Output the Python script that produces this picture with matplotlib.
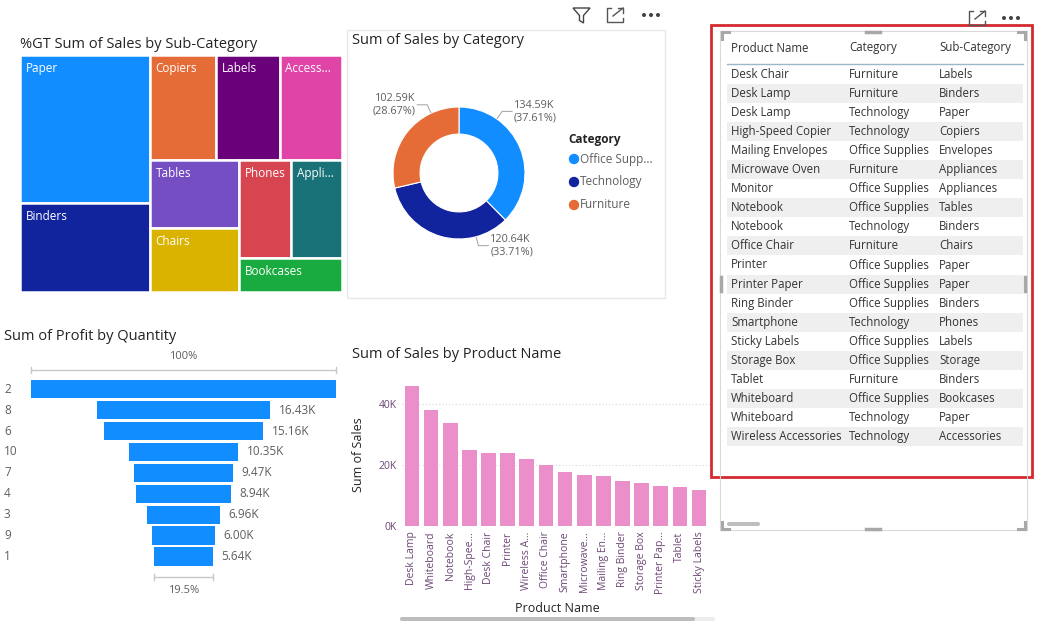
import numpy as np
import matplotlib.pyplot as plt
from matplotlib.patches import Rectangle, Circle, Polygon, FancyBboxPatch

plt.rcParams['font.family'] = ['Open Sans', 'DejaVu Sans']

# ---- data ----
sub_names = ["Paper", "Binders", "Copiers", "Labels", "Access...", "Tables",
             "Chairs", "Phones", "Appli...", "Bookcases"]
sub_pct = [25.2, 15.2, 9.1, 8.8, 8.6, 7.9, 7.5, 6.6, 6.5, 4.6]
sub_colors = ["#118DFF", "#12239E", "#E66C37", "#6B007B", "#E044A7", "#744EC2",
              "#D9B300", "#D64550", "#197278", "#1AAB40"]

cat_names = ["Office Supp...", "Technology", "Furniture"]
cat_sales = [134.59, 120.636, 102.59]  # thousands
cat_colors = ["#118DFF", "#12239E", "#E66C37"]

qty_labels = ["2", "8", "6", "10", "7", "4", "3", "9", "1"]
qty_profit = [28.92, 16.43, 15.16, 10.35, 9.47, 8.94, 6.96, 6.00, 5.64]  # thousands

products = ["Desk Lamp", "Whiteboard", "Notebook", "High-Spee...", "Desk Chair",
            "Printer", "Wireless A...", "Office Chair", "Smartphone", "Microwave...",
            "Mailing En...", "Ring Binder", "Storage Box", "Printer Pap...", "Tablet",
            "Sticky Labels"]
product_sales = [45.8, 37.8, 33.6, 24.7, 23.8, 23.8, 21.8, 19.8, 17.8, 16.8,
                 16.2, 14.8, 13.9, 13.0, 12.8, 11.9]  # thousands

tbl_product = ["Desk Chair", "Desk Lamp", "Desk Lamp", "High-Speed Copier",
               "Mailing Envelopes", "Microwave Oven", "Monitor", "Notebook", "Notebook",
               "Office Chair", "Printer", "Printer Paper", "Ring Binder", "Smartphone",
               "Sticky Labels", "Storage Box", "Tablet", "Whiteboard", "Whiteboard",
               "Wireless Accessories"]
tbl_category = ["Furniture", "Furniture", "Technology", "Technology", "Office Supplies",
                "Furniture", "Office Supplies", "Office Supplies", "Technology", "Furniture",
                "Office Supplies", "Office Supplies", "Office Supplies", "Technology",
                "Office Supplies", "Office Supplies", "Furniture", "Office Supplies",
                "Technology", "Technology"]
tbl_subcat = ["Labels", "Binders", "Paper", "Copiers", "Envelopes", "Appliances",
              "Appliances", "Tables", "Binders", "Chairs", "Paper", "Paper", "Binders",
              "Phones", "Labels", "Storage", "Binders", "Bookcases", "Paper", "Accessories"]

TITLE = "#252423"
GREY = "#605E5C"
W, H = 1056, 626

fig = plt.figure(figsize=(W / 100, H / 100), dpi=100, facecolor="white")


def px_axes(x0, y0, x1, y1, **kw):
    return fig.add_axes([x0 / W, 1 - y1 / H, (x1 - x0) / W, (y1 - y0) / H], **kw)


ov = px_axes(0, 0, W, H)
ov.set_xlim(0, W)
ov.set_ylim(H, 0)
ov.axis("off")
ov.set_zorder(0)

# ---- treemap ----
ov.text(20, 44, "%GT Sum of Sales by Sub-Category", fontsize=10.5, color=TITLE, va="center")
tm = px_axes(20, 55, 342, 292)
tm.set_xlim(0, 1)
tm.set_ylim(1, 0)
tm.axis("off")

tm_layout = ("h", [("v", [0, 1]),
                   ("v", [("h", [2, 3, 4]),
                          ("h", [("v", [5, 6]), ("v", [("h", [7, 8]), 9])])])])


def node_sum(n):
    if isinstance(n, int):
        return sub_pct[n]
    return sum(node_sum(c) for c in n[1])


def slice_rects(n, x, y, w, h, out):
    if isinstance(n, int):
        out[n] = (x, y, w, h)
        return
    d, kids = n
    tot = node_sum(n)
    for k in kids:
        f = node_sum(k) / tot
        if d == "h":
            slice_rects(k, x, y, w * f, h, out)
            x += w * f
        else:
            slice_rects(k, x, y, w, h * f, out)
            y += h * f


rects = {}
slice_rects(tm_layout, 0, 0, 1, 1, rects)
for i, name in enumerate(sub_names):
    x, y, w, h = rects[i]
    tm.add_patch(Rectangle((x, y), w, h, facecolor=sub_colors[i], edgecolor="white", lw=1.8))
    tm.annotate(name, (x, y), xytext=(4, -5), textcoords="offset points",
                color="white", fontsize=8.5, va="top", ha="left")

# ---- donut ----
ov.add_patch(Rectangle((347, 30), 318, 268, fill=False, edgecolor="#E8E8E8", lw=1))
ov.text(352, 40, "Sum of Sales by Category", fontsize=10.5, color=TITLE, va="center")
dn = px_axes(349, 63, 569, 283)
dn.pie(cat_sales, colors=cat_colors, startangle=90, counterclock=False,
       wedgeprops=dict(width=0.41, edgecolor="white", linewidth=0.8))
dn.set_xlim(-1.667, 1.667)
dn.set_ylim(-1.667, 1.667)
dn.set_aspect("equal")
tot = sum(cat_sales)
label_angles = [55, -75, 115]
for v, a in zip(cat_sales, label_angles):
    r = np.deg2rad(a)
    p0 = np.array([np.cos(r), np.sin(r)]) * 1.01
    p1 = np.array([np.cos(r), np.sin(r)]) * 1.14
    s = 1 if np.cos(r) >= 0 else -1
    p2 = p1 + np.array([0.15 * s, 0])
    dn.plot([p0[0], p1[0], p2[0]], [p0[1], p1[1], p2[1]], color="#A0A0A0", lw=0.7, clip_on=False)
    dn.text(p2[0] + 0.03 * s, p2[1], f"{v:.2f}K\n({v / tot * 100:.2f}%)", fontsize=7.8,
            color=GREY, ha="left" if s > 0 else "right", va="center", linespacing=1.2)

ov.text(568, 140, "Category", fontsize=8.5, color=TITLE, fontweight="bold", va="center")
for i, (name, c) in enumerate(zip(cat_names, cat_colors)):
    yy = 159 + 23 * i
    ov.add_patch(Circle((574, yy), 4.5, color=c))
    ov.text(580, yy, name, fontsize=8.5, color=GREY, va="center")

# ---- funnel ----
ov.text(4, 336, "Sum of Profit by Quantity", fontsize=10.5, color=TITLE, va="center")
fn = px_axes(31, 367, 336, 580)
qv = np.array(qty_profit)
rows = np.arange(len(qv))
fn.barh(rows, qv, left=-qv / 2, height=0.9, color="#118DFF")
fn.set_xlim(-qv[0] / 2, qv[0] / 2)
fn.set_ylim(9.1, -1.05)
fn.axis("off")
ytr = fn.get_yaxis_transform()
for i, lab in enumerate(qty_labels):
    fn.text(-27 / 305, i, lab, transform=ytr, fontsize=8.5, color=GREY, va="center", ha="left")
    if i > 0:
        fn.annotate(f"{qv[i]:.2f}K", (qv[i] / 2, i), xytext=(6, 0), textcoords="offset points",
                    fontsize=8.5, color=GREY, va="center")
# brackets
fn.plot([-qv[0] / 2, qv[0] / 2], [-0.9, -0.9], color="#C8C8C8", lw=1, clip_on=False)
for xx in (-qv[0] / 2, qv[0] / 2):
    fn.plot([xx, xx], [-1.05, -0.75], color="#C8C8C8", lw=1, clip_on=False)
fn.text(0, -1.55, "100%", fontsize=8, color=GREY, ha="center", va="center")
fn.plot([-qv[-1] / 2, qv[-1] / 2], [8.95, 8.95], color="#C8C8C8", lw=1, clip_on=False)
for xx in (-qv[-1] / 2, qv[-1] / 2):
    fn.plot([xx, xx], [8.8, 9.1], color="#C8C8C8", lw=1, clip_on=False)
fn.text(0, 9.6, f"{qv[-1] / qv[0] * 100:.1f}%", fontsize=8, color=GREY, ha="center", va="center")

# ---- bar chart ----
ov.text(352, 354, "Sum of Sales by Product Name", fontsize=10.5, color=TITLE, va="center")
bc = px_axes(402, 373, 710, 526)
bx = np.arange(len(products))
bc.bar(bx, np.array(product_sales) * 1000, width=0.77, color="#EB8FCB")
bc.set_xlim(-0.52, 15.57)
bc.set_ylim(0, 50000)
bc.set_yticks([0, 20000, 40000], ["0K", "20K", "40K"])
bc.set_xticks(bx, products, rotation=90)
bc.tick_params(length=0, labelsize=7.5, labelcolor="#6C4675", pad=4)
for s in bc.spines.values():
    s.set_visible(False)
for yv in (20000, 40000):
    bc.axhline(yv, color="#D8D8D8", lw=0.8, ls=(0, (1, 2)), zorder=0)
ov.text(358, 455, "Sum of Sales", fontsize=9, color=TITLE, rotation=90, ha="center", va="center")
ov.text(557, 608, "Product Name", fontsize=9, color=TITLE, ha="center", va="center")
ov.add_patch(FancyBboxPatch((400, 617), 315, 4, boxstyle="round,pad=0,rounding_size=2",
                            facecolor="#EDEDED", edgecolor="none"))
ov.add_patch(FancyBboxPatch((400, 617), 295, 4, boxstyle="round,pad=0,rounding_size=2",
                            facecolor="#BDBDBD", edgecolor="none"))

# ---- table ----
ov.plot([722, 1025], [31, 31], color="#DADADA", lw=0.8)
ov.plot([720, 720], [31, 530], color="#DADADA", lw=0.8)
ov.plot([1027, 1027], [31, 530], color="#DADADA", lw=0.8)
ov.plot([722, 1025], [530, 530], color="#DADADA", lw=0.8)
for (cx, cy, dx, dy) in [(722, 32, 1, 1), (1025, 32, -1, 1), (722, 529, 1, -1), (1025, 529, -1, -1)]:
    ov.plot([cx, cx + 7 * dx], [cy, cy], color="#A8A8A8", lw=2.2)
    ov.plot([cx, cx], [cy, cy + 7 * dy], color="#A8A8A8", lw=2.2)
ov.plot([866, 880], [32, 32], color="#A8A8A8", lw=2.5)
ov.plot([866, 880], [529, 529], color="#A8A8A8", lw=2.5)
ov.plot([721, 721], [277, 291], color="#A8A8A8", lw=2.5)
ov.plot([1025, 1025], [277, 291], color="#A8A8A8", lw=2.5)
ov.add_patch(FancyBboxPatch((727, 522), 33, 4, boxstyle="round,pad=0,rounding_size=2",
                            facecolor="#BDBDBD", edgecolor="none"))

col_x = [731, 849, 939]
for x, hdr in zip(col_x, ["Product Name", "Category", "Sub-Category"]):
    ov.text(x, 48, hdr, fontsize=8.3, color="#333333", va="center")
ov.plot([727, 1023], [64, 64], color="#9DB7C9", lw=1)
for i, (p, c, s) in enumerate(zip(tbl_product, tbl_category, tbl_subcat)):
    yy = 74 + 19.1 * i
    if i % 2 == 1:
        ov.add_patch(Rectangle((727, yy - 9.5), 296, 19, facecolor="#EFEFEF", edgecolor="none"))
    for x, t in zip(col_x, (p, c, s)):
        ov.text(x, yy, t, fontsize=8.3, color="#333333", va="center")
ov.add_patch(Rectangle((711, 25), 321, 452, fill=False, edgecolor="#D42A2F", lw=2))

# ---- header icons ----
ov.add_patch(Polygon([(573, 8), (590, 8), (583.5, 15.5), (583.5, 23), (579.5, 20.5), (579.5, 15.5)],
                     closed=True, fill=False, edgecolor="#444444", lw=1))
for (ex, ey) in [(615, 15), (977, 18)]:
    ov.plot([ex - 4, ex - 8, ex - 8, ex + 8, ex + 8], [ey - 7, ey - 7, ey + 7, ey + 7, ey + 3],
            color="#555555", lw=1)
    ov.plot([ex - 2, ex + 8], [ey + 1, ey - 7], color="#555555", lw=1)
    ov.plot([ex + 3, ex + 8, ex + 8], [ey - 7, ey - 7, ey - 2], color="#555555", lw=1)
for (dx, dy) in [(651, 15), (1011, 18)]:
    for k in (-7, 0, 7):
        ov.add_patch(Circle((dx + k, dy), 1.3, color="#444444"))

fig.savefig("out.png", dpi=100, facecolor="white")
